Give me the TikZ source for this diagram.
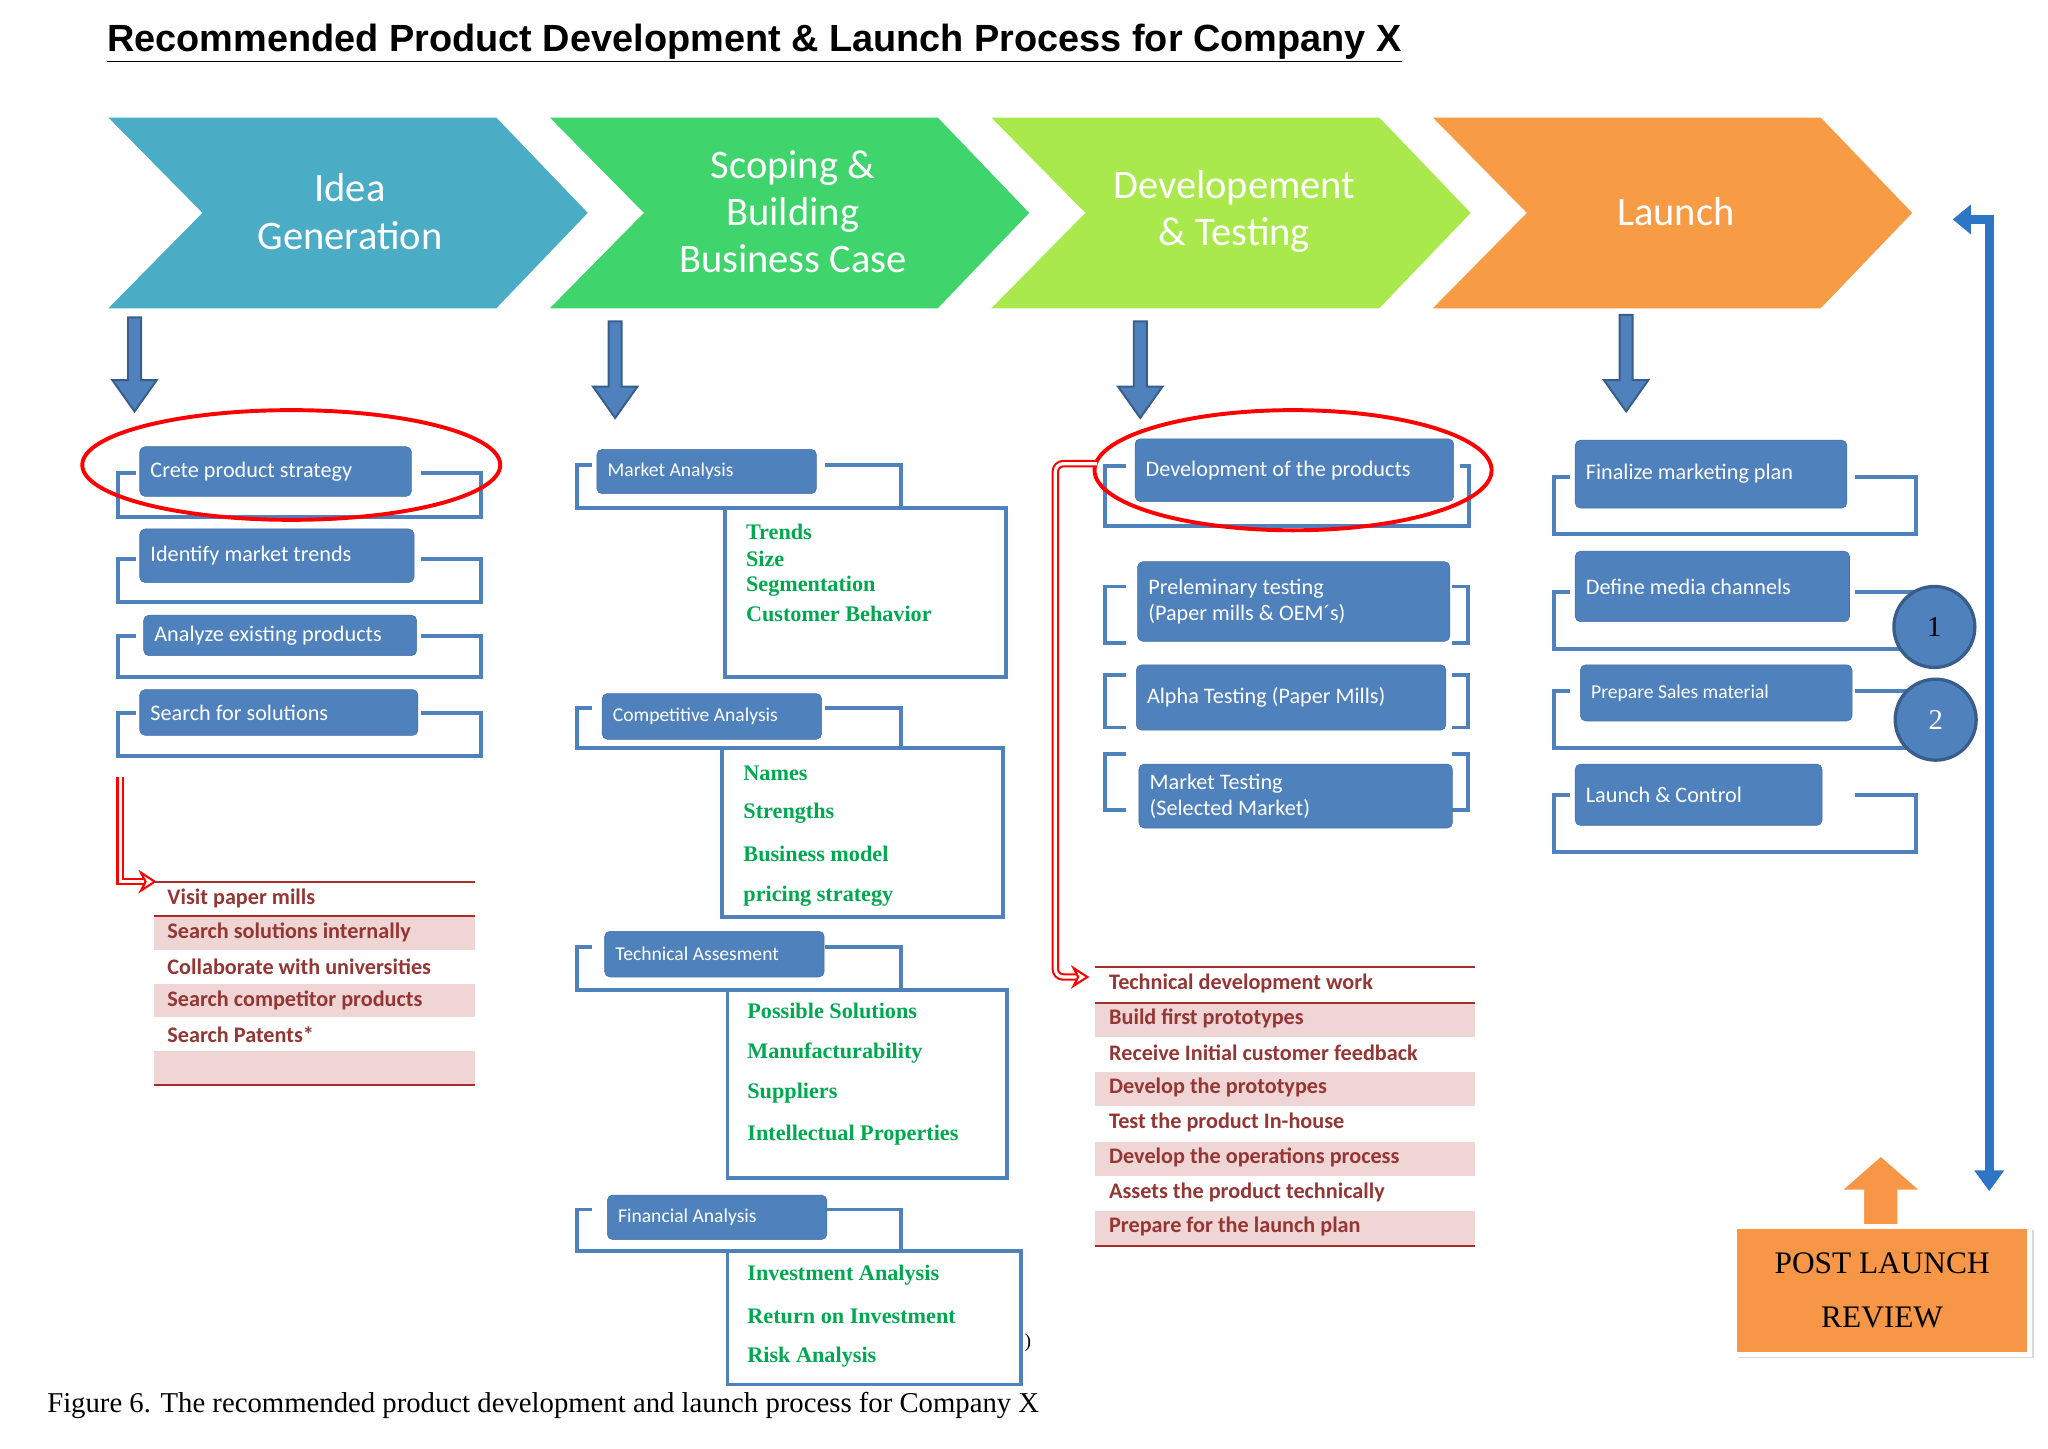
\documentclass[tikz,border=0pt]{standalone}
\usepackage{fontspec}
\setmainfont{Liberation Serif}
\newfontfamily\carl{Carlito}
\newfontfamily\arl{Liberation Sans}
\usetikzlibrary{arrows.meta,shadows}
\definecolor{cA}{HTML}{4BACC6}
\definecolor{cB}{HTML}{3FD56C}
\definecolor{cC}{HTML}{A9E94C}
\definecolor{cD}{HTML}{F79B45}
\definecolor{bl}{HTML}{4F81BD}
\definecolor{bld}{HTML}{385D8A}
\definecolor{rd}{HTML}{943634}
\definecolor{pk}{HTML}{F0D5D5}
\definecolor{gr}{HTML}{00A84F}
\definecolor{vbl}{HTML}{2E75C6}
\definecolor{orr}{HTML}{F79646}

\tikzset{
  chevtxt/.style={text=white, font=\carl\fontsize{31}{36}\selectfont, align=center},
  bx/.style={fill=bl, draw=bl!85!black, rounded corners=4pt},
  btxt/.style={anchor=west, text=white, font=\carl\fontsize{17}{20}\selectfont, align=left, inner sep=0},
  frm/.style={draw=bl, line width=3pt},
  gtxt/.style={anchor=west, text=gr, font=\bfseries\fontsize{17}{20}\selectfont, inner sep=0},
  rtxt/.style={anchor=west, text=rd, font=\carl\bfseries\fontsize{17}{20}\selectfont, inner sep=0},
  dnarr/.style={fill=bl, draw=bld, line width=1.5pt},
  redarr/.style={draw=red, double=white, double distance=2.5pt, line width=1.6pt, -{Stealth[open, length=14pt, width=18pt]}},
}

% blue box with its text
\newcommand{\bxx}[6]{%
  \path[bx] (#2,#3) rectangle (#4,#5);
  \node[btxt] (#1) at ({#2+8},{(#3+#5)/2}) {#6};}

\begin{document}
\begin{tikzpicture}[x=1pt, y=-1pt]
\useasboundingbox (0,0) rectangle (1568,1109);

\node[font=\arl\bfseries\fontsize{29}{34}\selectfont, anchor=west, inner sep=0] (title) at (82,33)
  {\underline{Recommended Product Development \& Launch Process for Company X}};

% chevrons
\foreach \x/\c in {83/cA,421/cB,759/cC,1097/cD}{
  \fill[\c] (\x,90) -- ({\x+297},90) -- ({\x+367},163) -- ({\x+297},236) -- (\x,236) -- ({\x+72},163) -- cycle;
}
\node[chevtxt] (idea) at (268,162) {Idea\\Generation};
\node[chevtxt] (scop) at (607,162) {Scoping \&\\Building\\Business Case};
\node[chevtxt] (devt) at (945,162) {Developement\\\& Testing};
\node[chevtxt] (laun) at (1283,162) {Launch};

% down arrows
\foreach \x/\ya/\yb in {103/243/315,471/246/320,873/246/320,1245/241/315}{
  \path[dnarr] ({\x-5},\ya) -- ({\x+5},\ya) -- ({\x+5},{\yb-24}) -- ({\x+17},{\yb-24}) -- (\x,\yb)
    -- ({\x-17},{\yb-24}) -- ({\x-5},{\yb-24}) -- cycle;
}

% column 1
\foreach \t/\b in {362/396,428/461,487/518,546/579}{
  \draw[frm] (104,\t) -- (90,\t) -- (90,\b) -- (368,\b) -- (368,\t) -- (322,\t);
}
\bxx{a1}{107}{342}{315}{380}{Crete product strategy}
\bxx{a2}{107}{405}{317}{446}{Identify market trends}
\bxx{a3}{110}{471}{319}{502}{Analyze existing products}
\bxx{a4}{107}{528}{320}{563}{Search for solutions}
\draw[red, line width=3pt] (223,356) ellipse [x radius=160, y radius=42];

\coordinate (ra0) at (92,595);
\coordinate (ra1) at (120,675);
\draw[redarr] (ra0) |- (ra1);

\foreach \i/\t/\f in {0/Visit paper mills/white,1/Search solutions internally/pk,2/Collaborate with universities/white,
  3/Search competitor products/pk,4/Search Patents*/white,5/{}/pk}{
  \fill[\f] (118,{675+26*\i}) rectangle (364,{701+26*\i});
  \node[rtxt] (r\i) at (128,{688+26*\i}) {\t};
}
\draw[rd!80!red, line width=1.5pt] (118,675) -- (364,675);
\draw[rd!80!red, line width=1.5pt] (118,701) -- (364,701);
\draw[rd!80!red, line width=1.5pt] (118,831) -- (364,831);

% column 2
\foreach \t/\b/\lx/\ly/\rx in {356/389/555/518/770,542/573/553/702/768,725/758/557/902/771,926/958/557/1060/782}{
  \draw[frm] (453,\t) -- (442,\t) -- (442,\b) -- (690,\b) -- (690,\t) -- (632,\t);
  \draw[frm] (\lx,\b) rectangle (\rx,\ly);
}
\bxx{m1}{457}{344}{625}{378}{\fontsize{15}{18}\selectfont Market Analysis}
\bxx{m2}{461}{531}{629}{566}{\fontsize{15}{18}\selectfont Competitive Analysis}
\bxx{m3}{463}{713}{631}{748}{\fontsize{15}{18}\selectfont Technical Assesment}
\bxx{m4}{465}{915}{633}{949}{\fontsize{15}{18}\selectfont Financial Analysis}
\foreach \y/\t in {407/Trends,428/Size,449/Segmentation,470/Customer Behavior}{
  \node[gtxt] at (571,\y) {\t};}
\foreach \y/\t in {592/Names,623/Strengths,654/Business model,686/pricing strategy}{
  \node[gtxt] at (569,\y) {\t};}
\foreach \y/\t in {774/Possible Solutions,806/Manufacturability,837/Suppliers,869/Intellectual Properties}{
  \node[gtxt] at (572,\y) {\t};}
\foreach \y/\t in {976/Investment Analysis,1008/Return on Investment,1039/Risk Analysis}{
  \node[gtxt] at (572,\y) {\t};}
\node[font=\fontsize{15}{18}\selectfont, inner sep=0] (par) at (787,1028) {)};

% column 3
\draw[frm] (862,357) -- (846,357) -- (846,403) -- (1125,403) -- (1125,357) -- (1118,357);
\foreach \t/\b in {449/492,517/557,577/620}{
  \draw[frm] (862,\t) -- (846,\t) -- (846,\b) -- (862,\b);
  \draw[frm] (1112,\t) -- (1124,\t) -- (1124,\b) -- (1112,\b);
}
\bxx{d1}{869}{336}{1113}{384}{Development of the  products}
\bxx{d2}{871}{430}{1110}{491}{Preleminary testing\\(Paper mills  \&  OEM\textasciiacute s)}
\bxx{d3}{870}{509}{1107}{559}{Alpha Testing (Paper Mills)}
\bxx{d4}{872}{585}{1112}{634}{Market Testing\\(Selected Market)}
\draw[red, line width=3pt] (990,360) ellipse [x radius=152, y radius=46];

\coordinate (rb0) at (840,355);
\coordinate (rb1) at (834,748);
\draw[redarr, rounded corners=6pt] (rb0) -- (808,355) |- (rb1);

\foreach \i/\t in {0/Technical development work,1/Build first prototypes,2/Receive Initial customer feedback,
  3/Develop the prototypes,4/Test the product In-house,5/Develop the operations process,
  6/Assets the product technically,7/Prepare for the launch plan}{
  \pgfmathparse{mod(\i,2)==1 ? "pk" : "white"}
  \fill[\pgfmathresult] (838,{741+26.6*\i}) rectangle (1129,{767+26.6*\i});
  \node[rtxt] (t\i) at (849,{753+26.6*\i}) {\t};
}
\draw[rd!80!red, line width=1.5pt] (838,740) -- (1129,740);
\draw[rd!80!red, line width=1.5pt] (838,768) -- (1129,768);
\draw[rd!80!red, line width=1.5pt] (838,954) -- (1129,954);

% column 4
\foreach \t/\b in {365/409,453/497,529/573,609/652}{
  \draw[frm] (1202,\t) -- (1190,\t) -- (1190,\b) -- (1467,\b) -- (1467,\t) -- (1420,\t);
}
\bxx{l1}{1206}{337}{1414}{389}{Finalize marketing plan}
\bxx{l2}{1206}{422}{1416}{476}{Define media channels}
\bxx{l3}{1210}{509}{1418}{552}{\fontsize{15}{18}\selectfont Prepare Sales material}
\bxx{l4}{1206}{585}{1395}{632}{Launch \& Control}
\node[circle, fill=bl, draw=bld, line width=2.5pt, minimum size=62, font=\fontsize{22}{24}\selectfont] (c1) at (1481,480) {1};
\node[circle, fill=bl, draw=bld, line width=2.5pt, minimum size=62, font=\fontsize{22}{24}\selectfont, text=white] (c2) at (1482,551) {2};

% feedback arrow
\coordinate (fb0) at (1523,912);
\coordinate (fb1) at (1495,168);
\draw[vbl, line width=7pt, -{Triangle[length=16pt, width=22pt]}] (1523,175) -- (fb0);
\draw[vbl, line width=7pt, -{Triangle[length=14pt, width=22pt]}] (1523,178) -- (1523,168) -- (fb1);

% post launch review
\node[fill=orr, draw=white, line width=4pt, drop shadow={shadow xshift=3pt, shadow yshift=-3pt, opacity=0.3},
  minimum width=226, minimum height=98, anchor=north west, align=center,
  font=\fontsize{24}{41}\selectfont] (plr) at (1326,937) {POST LAUNCH\\REVIEW};
\path[fill=orr, draw=white, line width=2.5pt] (1426,937) -- (1426,912) -- (1408,912) -- (1440,884)
  -- (1472,912) -- (1454,912) -- (1454,937);

\node[font=\fontsize{22}{26}\selectfont, anchor=west, inner sep=0] (cap) at (36,1076)
  {Figure 6. The recommended product development and launch process for Company X};
\end{tikzpicture}
\end{document}
